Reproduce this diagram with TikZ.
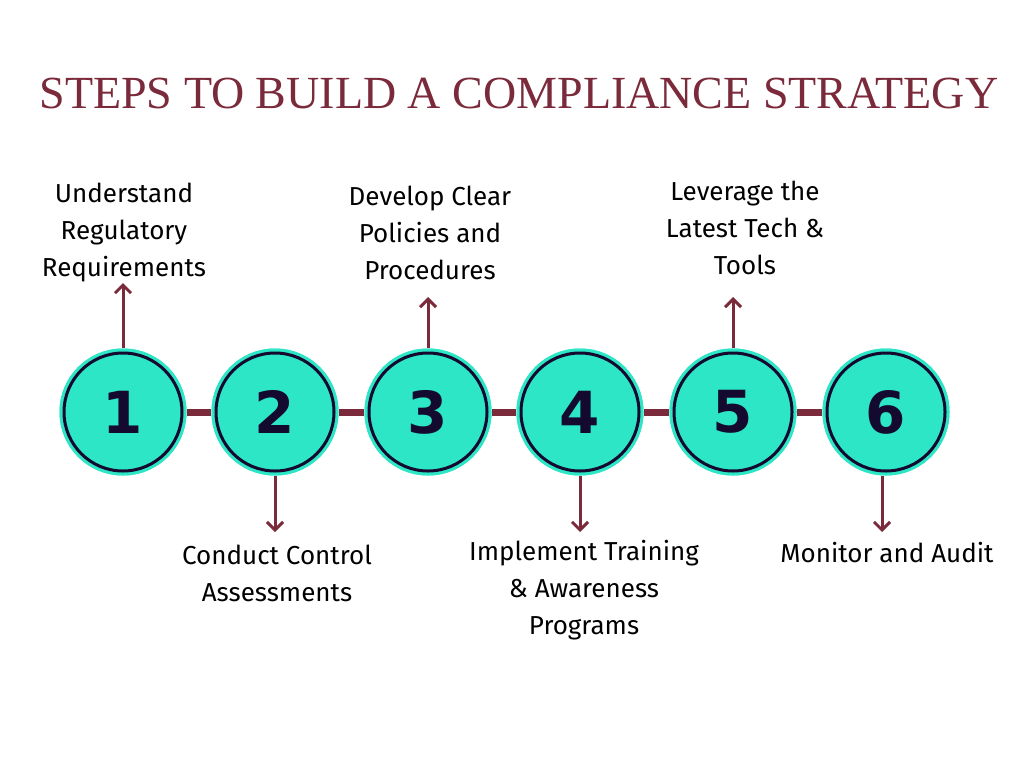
\documentclass[tikz,border=0pt]{standalone}
\usepackage{fontspec}
\setmainfont{Liberation Serif}
\newfontfamily\lab{Fira Sans}
\newfontfamily\num{DejaVu Sans}
\usetikzlibrary{arrows.meta}
\definecolor{maroon}{HTML}{7A2A3A}
\definecolor{teal}{HTML}{2CE6C6}
\definecolor{navy}{HTML}{14092E}
\tikzset{
 stepc/.style={circle,draw=navy,line width=3pt,fill=teal,minimum size=118pt,inner sep=0pt,
   font=\num\bfseries\fontsize{58}{58}\selectfont,text=navy},
 rim/.style={circle,fill=teal,minimum size=127pt,inner sep=0pt},
 arr/.style={draw=maroon,line width=3pt,-{Straight Barb[length=8pt,width=16pt]}},
 link/.style={draw=maroon,line width=7pt},
 lbl/.style={align=center,font=\lab\fontsize{26}{37}\selectfont,text=black}
}
\begin{document}
\begin{tikzpicture}[x=1pt,y=-1pt]
\useasboundingbox[fill=white] (0,0) rectangle (1024,768);
\node[font=\fontsize{46}{46}\selectfont,text=maroon] (title) at (519,93) {STEPS TO BUILD A COMPLIANCE STRATEGY};
\foreach \i/\x in {1/123,2/275,3/428,4/580,5/733,6/886}{
  \node[rim] (r\i) at (\x,412) {};
}
\foreach \a/\b in {1/2,2/3,3/4,4/5,5/6}{ \draw[link] (r\a) -- (r\b); }
\foreach \i/\x in {1/123,2/275,3/428,4/580,5/733,6/886}{
  \node[rim] at (\x,412) {};
  \node[stepc] (c\i) at (\x,412) {\i};
}
\coordinate (t1) at (123,283); \coordinate (t3) at (428,297); \coordinate (t5) at (733,297);
\coordinate (b2) at (275,532); \coordinate (b4) at (580,532); \coordinate (b6) at (882,532);
\draw[arr] (r1.north) -- (t1);
\draw[arr] (r3.north) -- (t3);
\draw[arr] (r5.north) -- (t5);
\draw[arr] (r2.south) -- (b2);
\draw[arr] (r4.south) -- (b4);
\draw[arr] (r6.south -| b6) -- (b6);
\node[lbl] (l1) at (124,233) {Understand\\Regulatory\\Requirements};
\node[lbl] (l3) at (430,233) {Develop Clear\\Policies and\\Procedures};
\node[lbl] (l5) at (745,228) {Leverage the\\Latest Tech \&\\Tools};
\node[lbl] (l2) at (277,573) {Conduct Control\\Assessments};
\node[lbl] (l4) at (584,590) {Implement Training\\\& Awareness\\Programs};
\node[lbl] (l6) at (887,553) {Monitor and Audit};
\end{tikzpicture}
\end{document}
